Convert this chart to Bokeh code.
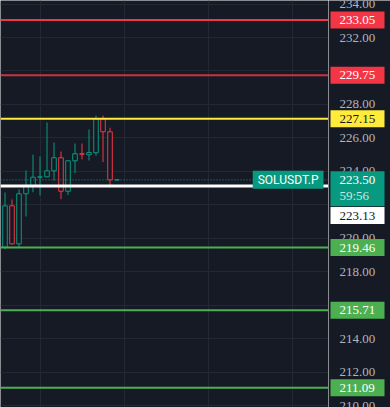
from bokeh.plotting import figure
from bokeh.models import Range1d, FixedTicker, Label, Span
from bokeh.layouts import row
from bokeh.embed import file_html
from bokeh.resources import INLINE

# ---------------- data ----------------
candle_index = list(range(17))
opens  = [219.48, 221.95, 219.68, 222.67, 223.15, 223.66, 223.68, 224.04, 224.82,
          222.82, 224.64, 225.06, 225.00, 225.12, 227.15, 226.37, 223.50]
highs  = [222.75, 222.33, 222.93, 224.06, 225.01, 224.90, 226.93, 225.73, 225.19,
          224.66, 225.67, 225.67, 226.51, 227.34, 227.34, 226.61, 223.52]
lows   = [219.36, 219.65, 219.42, 221.31, 222.76, 222.57, 223.66, 223.46, 222.35,
          222.59, 223.90, 224.72, 224.66, 224.94, 224.56, 223.06, 223.48]
closes = [221.95, 219.68, 222.67, 223.15, 223.66, 223.68, 224.04, 224.82, 222.82,
          224.64, 225.06, 225.03, 225.13, 227.15, 226.37, 223.50, 223.50]

symbol = "SOLUSDT.P"
last_price = 223.50
countdown = "59:56"
mark_price = 223.13
resistance_levels = [233.05, 229.75]
key_level = 227.15
support_levels = [219.46, 215.71, 211.09]

y_tick_values = [210, 212, 214, 218, 220, 224, 226, 228, 232, 234]
y_tick_labels = [f"{v:.2f}" for v in y_tick_values]
y_grid_values = [210, 212, 214, 216, 218, 220, 222, 224, 226, 228, 230, 232, 234]
x_grid_values = [5, 17, 29, 41]

# ---------------- style ----------------
BG = "#161a25"
GRID = "#242834"
TEAL = "#089981"
RED = "#f23645"
RED_DARK = "#d0303f"
GREEN = "#4caf50"
YELLOW = "#ffeb3b"
AXIS_TXT = "#b2b5be"
FONT = "Roboto"
H = 407

y_range = Range1d(209.91, 234.209)
px_per_unit = H / (y_range.end - y_range.start)   # screen pixels per price unit

# ---------------- chart pane ----------------
p = figure(width=328, height=H,
           x_range=Range1d(-0.643, 46.21), y_range=y_range,
           x_axis_location=None, y_axis_location=None,
           toolbar_location=None, output_backend="svg",
           min_border_left=0, min_border_right=0, min_border_top=0, min_border_bottom=0,
           background_fill_color=BG, border_fill_color=BG, outline_line_color=None)

p.ygrid.ticker = FixedTicker(ticks=y_grid_values)
p.xgrid.ticker = FixedTicker(ticks=x_grid_values)
p.grid.grid_line_color = GRID
p.grid.grid_line_width = 1

colors = [TEAL if c >= o else RED for o, c in zip(opens, closes)]
tops = [max(o, c) for o, c in zip(opens, closes)]
bottoms = [min(o, c) for o, c in zip(opens, closes)]

p.segment(x0=candle_index, y0=lows, x1=candle_index, y1=highs,
          line_color=colors, line_width=1)
p.vbar(x=candle_index, width=0.65, top=tops, bottom=bottoms,
       fill_color=BG, line_color=colors, line_width=1)

p.add_layout(Span(location=resistance_levels[0], dimension="width", line_color=RED, line_width=2))
p.add_layout(Span(location=resistance_levels[1], dimension="width", line_color=RED_DARK, line_width=2))
p.add_layout(Span(location=key_level, dimension="width", line_color=YELLOW, line_width=2))
for lv in support_levels:
    p.add_layout(Span(location=lv, dimension="width", line_color=GREEN, line_width=2))
p.add_layout(Span(location=mark_price, dimension="width", line_color="#ffffff", line_width=3))
p.add_layout(Span(location=last_price, dimension="width", line_color=TEAL, line_width=1,
                  line_dash="1 2"))

p.add_layout(Label(x=323, y=last_price, x_units="screen", y_units="data",
                   text=symbol, text_font=FONT, text_font_size="12px",
                   text_color="#ffffff", text_align="right", text_baseline="middle",
                   background_fill_color=TEAL,
                   padding=dict(left=5, right=5, top=2, bottom=2)))

# ---------------- price scale pane ----------------
s = figure(width=62, height=H,
           x_range=Range1d(0, 62), y_range=y_range,
           x_axis_location=None, y_axis_location=None,
           toolbar_location=None, output_backend="svg",
           min_border_left=0, min_border_right=0, min_border_top=0, min_border_bottom=0,
           background_fill_color=BG, border_fill_color=BG, outline_line_color=None)
s.grid.visible = False

# scale tick labels
s.text(x=[11] * len(y_tick_values), y=y_tick_values, text=y_tick_labels,
       text_font=FONT, text_font_size="13px", text_color=AXIS_TXT,
       text_align="left", text_baseline="middle")

# simple price tags (box centred on price)
tag_prices = resistance_levels + [key_level] + support_levels
tag_fills = [RED, RED, YELLOW, GREEN, GREEN, GREEN]
tag_text_colors = ["#ffffff", "#ffffff", "#131722", "#ffffff", "#ffffff", "#ffffff"]
s.rect(x=[29] * len(tag_prices), y=tag_prices, width=54, height=17,
       width_units="screen", height_units="screen",
       fill_color=tag_fills, line_color=None)
s.text(x=[11] * len(tag_prices), y=tag_prices, text=[f"{v:.2f}" for v in tag_prices],
       text_font=FONT, text_font_size="13px", text_color=tag_text_colors,
       text_align="left", text_baseline="middle")

# last price tag with countdown (box extends below the price)
last_box_center = last_price - 9.0 / px_per_unit
s.rect(x=[29], y=[last_box_center], width=54, height=35,
       width_units="screen", height_units="screen", fill_color=TEAL, line_color=None)
s.text(x=[11], y=[last_price], text=[f"{last_price:.2f}"],
       text_font=FONT, text_font_size="13px", text_color="#ffffff",
       text_align="left", text_baseline="middle")
s.text(x=[11], y=[last_price - 15.6 / px_per_unit], text=[countdown],
       text_font=FONT, text_font_size="13px", text_color="#ffffff", text_alpha=0.8,
       text_align="left", text_baseline="middle")

# mark price tag, pushed below the last price tag
mark_box_center = mark_price - 29.5 / px_per_unit
s.rect(x=[29], y=[mark_box_center], width=54, height=17,
       width_units="screen", height_units="screen", fill_color="#ffffff", line_color=None)
s.text(x=[11], y=[mark_box_center], text=[f"{mark_price:.2f}"],
       text_font=FONT, text_font_size="13px", text_color="#131722",
       text_align="left", text_baseline="middle")

layout = row(p, s, spacing=0)
open("out.html", "w").write(file_html(layout, INLINE))
